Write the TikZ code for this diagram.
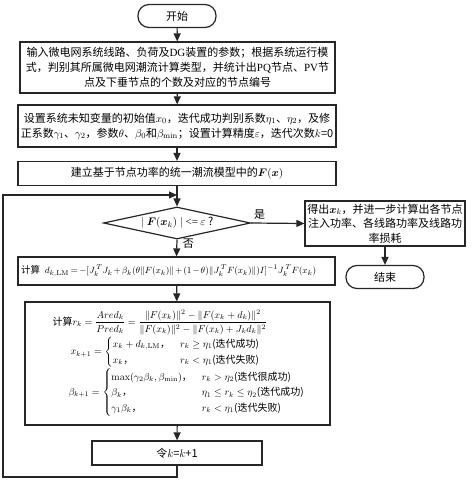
\documentclass[tikz,border=0pt]{standalone}
\usepackage{amsmath,amssymb,bm}
\usepackage[no-math]{fontspec}
\setmainfont{Liberation Serif}
\newfontfamily\cjk{Noto Sans CJK SC}
\usetikzlibrary{arrows.meta,positioning,shapes.geometric}
\newcommand{\lat}[1]{{\rmfamily #1}}

\begin{document}
\begin{tikzpicture}[x=1pt, y=-1pt, >={Triangle[length=8pt,width=7pt]},
    font=\cjk\fontsize{11pt}{15pt}\selectfont,
    procbox/.style={draw=black!85, line width=1.2pt, fill=white, align=center, inner sep=2pt},
    termbox/.style={draw=black!85, line width=1.2pt, rounded corners=11pt, minimum width=78pt, minimum height=23pt, inner sep=0pt},
    decision/.style={draw=black!85, line width=1.2pt, diamond, aspect=4.6, inner sep=0pt, minimum width=147pt, minimum height=32pt},
    flow/.style={->, line width=1.2pt, draw=black!85}]
    \useasboundingbox (0,0) rectangle (474,481);

    % Start and input data
    \node[termbox] (start) at (177,16) {开始};
    \node[procbox, minimum width=315pt, minimum height=51pt] (input) at (177.5,67.5)
        {输入微电网系统线路、负荷及\lat{DG}装置的参数；根据系统运行模\\
         式，判别其所属微电网潮流计算类型，并统计出\lat{PQ}节点、\lat{PV}节\\
         点及下垂节点的个数及对应的节点编号};

    % Initial values
    \node[procbox, minimum width=318pt, minimum height=42pt] (init) at (177,126)
        {设置系统未知变量的初始值$x_0$，迭代成功判别系数$\eta_1$、$\eta_2$，及修\\
         正系数$\gamma_1$、$\gamma_2$，参数$\theta$、$\beta_0$和$\beta_{\min}$；设置计算精度$\varepsilon$，迭代次数$k$=0};

    % Unified power flow model
    \node[procbox, minimum width=318pt, minimum height=24pt] (model) at (177,173.5)
        {建立基于节点功率的统一潮流模型中的$\bm{F}(\bm{x})$};
    \coordinate (merge) at (177,195);

    % Convergence check
    \node[decision] (judge) at (177,223) {$|\;\bm{F}(\bm{x}_k)\;|$ \lat{<=} $\varepsilon$ ?};
    \node[procbox, minimum width=160pt, minimum height=45pt, inner sep=1pt, font=\cjk\fontsize{11pt}{14.5pt}\selectfont] (result) at (385,223.5)
        {得出$\bm{x}_k$，并进一步计算出各节点\\注入功率、各线路功率及线路功\\率损耗};
    \node[termbox] (stop) at (385,277) {结束};

    % Search direction
    \node[procbox, minimum width=317pt, minimum height=28pt, align=left, text width=311pt, font=\cjk\fontsize{9.5pt}{13pt}\selectfont] (dir) at (176.5,271)
        {\mbox{计算\enspace $\medmuskip=2mu\thickmuskip=3mu d_{k,\mathrm{LM}}=-[J_k^{\,T}J_k+\beta_k(\theta\|F(x_k)\|+(1-\theta)\|J_k^{\,T}F(x_k)\|)I]^{-1}J_k^{\,T}F(x_k)$}};

    % Ratio and update rules
    \node[procbox, minimum width=305pt, minimum height=123pt, align=left, text width=250pt, inner xsep=0pt, font=\cjk\fontsize{10pt}{13pt}\selectfont] (update) at (177.5,363.5)
        {\mbox{计算$r_k=\dfrac{Ared_k}{Pred_k}=\dfrac{\|F(x_k)\|^2-\|F(x_k+d_k)\|^2}{\|F(x_k)\|^2-\|F(x_k)+J_kd_k\|^2}$}\\[1pt]
         \mbox{\hspace*{18pt}$x_{k+1}=\begin{cases} x_k+d_{k,\mathrm{LM}}\text{，} & r_k\ge\eta_1\text{(迭代成功)}\\ x_k\text{，} & r_k<\eta_1\text{(迭代失败)}\end{cases}$}\\[0pt]
         \mbox{\hspace*{16pt}$\beta_{k+1}=\begin{cases}\max(\gamma_2\beta_k,\beta_{\min})\text{，} & r_k>\eta_2\text{(迭代很成功)}\\ \beta_k\text{，} & \eta_1\le r_k\le\eta_2\text{(迭代成功)}\\ \gamma_1\beta_k\text{，} & r_k<\eta_1\text{(迭代失败)}\end{cases}$}};

    % Next iteration
    \node[procbox, minimum width=170pt, minimum height=24pt] (next) at (177,453) {令$k$=$k$+1};
    \coordinate (loopbot) at (177,477);
    \coordinate (loopcorner) at (3,195);

    % Connectors
    \draw[flow] (start) -- (input);
    \draw[flow] (input) -- (init);
    \draw[flow] (init) -- (model);
    \draw[flow] (model) -- (judge);
    \draw[flow] (judge.east) -- (result.west) node[pos=0.16, above] {是};
    \draw[flow] (judge.south) -- (dir.north) node[pos=0.25, right=2pt] {否};
    \draw[flow] (result) -- (stop);
    \draw[flow] (dir) -- (update);
    \draw[flow] (update) -- (next);
    \draw[flow] (next.south) -- (loopbot) -| (loopcorner) -- (merge);
\end{tikzpicture}
\end{document}
